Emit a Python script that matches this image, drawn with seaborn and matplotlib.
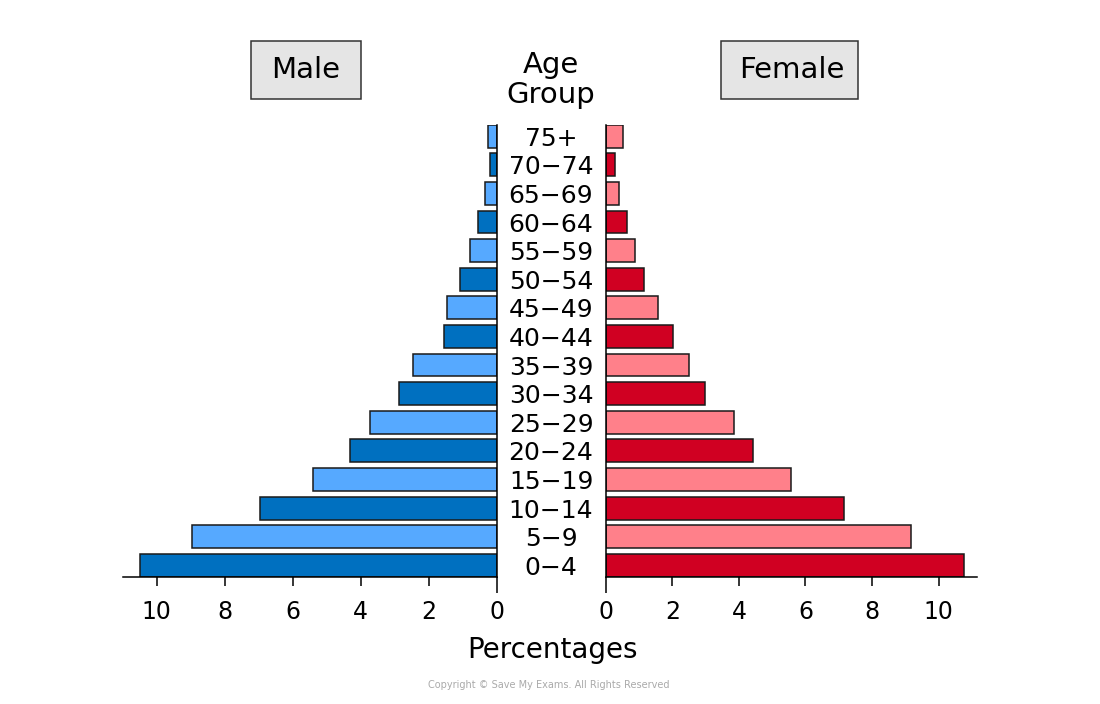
import seaborn as sns
import pandas as pd
import matplotlib.pyplot as plt
from matplotlib.patches import Rectangle

# age groups from top of the pyramid to the bottom
ages = ['75+', '70−74', '65−69', '60−64', '55−59', '50−54', '45−49', '40−44',
        '35−39', '30−34', '25−29', '20−24', '15−19', '10−14', '5−9', '0−4']
male = [0.25, 0.2, 0.34, 0.55, 0.78, 1.08, 1.45, 1.54,
        2.45, 2.87, 3.73, 4.3, 5.41, 6.96, 8.96, 10.49]
female = [0.51, 0.27, 0.39, 0.63, 0.88, 1.14, 1.56, 2.03,
          2.51, 2.99, 3.86, 4.43, 5.57, 7.16, 9.17, 10.75]
ticks = [0, 2, 4, 6, 8, 10]

male_cols = ['#56a9ff' if i % 2 == 0 else '#0070c0' for i in range(len(ages))]
female_cols = ['#ff808a' if i % 2 == 0 else '#d00022' for i in range(len(ages))]

df = pd.DataFrame({'age': ages, 'male': male, 'female': female})

sns.set_style('white')
plt.rcParams['font.family'] = ['DejaVu Sans']
plt.rcParams['text.color'] = 'black'
plt.rcParams['xtick.color'] = 'black'
plt.rcParams['ytick.color'] = 'black'

fig = plt.figure(figsize=(11, 7.04), dpi=100)
ax_l = fig.add_axes([0.1115, 0.1808, 0.340, 0.642])
ax_r = fig.add_axes([0.5506, 0.1808, 0.3373, 0.642])

bar_kw = dict(order=ages, hue_order=ages, legend=False, width=0.8, saturation=1,
              edgecolor='#1a1a1a', linewidth=1.1)
sns.barplot(data=df, x='male', y='age', hue='age', palette=male_cols, ax=ax_l, **bar_kw)
sns.barplot(data=df, x='female', y='age', hue='age', palette=female_cols, ax=ax_r, **bar_kw)

# left side (male)
ax_l.set_xlim(11.0, 0)
ax_l.set_ylim(15.4, -0.4)
ax_l.set_yticks([])
ax_l.set_xticks(ticks)
ax_l.set_xlabel('')
ax_l.set_ylabel('')
for s in ['left', 'top']:
    ax_l.spines[s].set_visible(False)

# right side (female)
ax_r.set_xlim(0, 11.14)
ax_r.set_ylim(15.4, -0.4)
ax_r.set_xticks(ticks)
ax_r.set_yticks(range(len(ages)))
ax_r.set_yticklabels(ages, ha='center')
ax_r.set_xlabel('')
ax_r.set_ylabel('')
for s in ['right', 'top']:
    ax_r.spines[s].set_visible(False)
ax_r.tick_params(axis='y', length=0, pad=39.4, labelsize=18, labelcolor='black')

for ax in (ax_l, ax_r):
    for s in ax.spines.values():
        s.set_linewidth(1.1)
        s.set_color('black')
    ax.tick_params(axis='x', bottom=True, length=6.5, width=1.1, pad=10,
                   labelsize=17, color='black', labelcolor='black')
    # the zero tick runs further down
    for t in ax.xaxis.get_major_ticks():
        if t.get_loc() == 0:
            t.tick1line.set_markersize(11.5)

# header boxes
for x0, w in [(0.2279, 0.1003), (0.6555, 0.1248)]:
    fig.patches.append(Rectangle((x0, 0.8594), w, 0.0828, transform=fig.transFigure,
                                 facecolor='#e5e5e5', edgecolor='#333333', linewidth=1.1))
fig.text(0.278, 0.9006, 'Male', ha='center', va='center', fontsize=21)
fig.text(0.7199, 0.9006, 'Female', ha='center', va='center', fontsize=21)
fig.text(0.501, 0.886, 'Age\nGroup', ha='center', va='center', fontsize=21, linespacing=1.1)
fig.text(0.502, 0.0767, 'Percentages', ha='center', va='center', fontsize=20)
fig.text(0.499, 0.027, 'Copyright © Save My Exams. All Rights Reserved',
         ha='center', va='center', fontsize=7, color='#aaaaaa')

fig.savefig('out.png', dpi=100)
